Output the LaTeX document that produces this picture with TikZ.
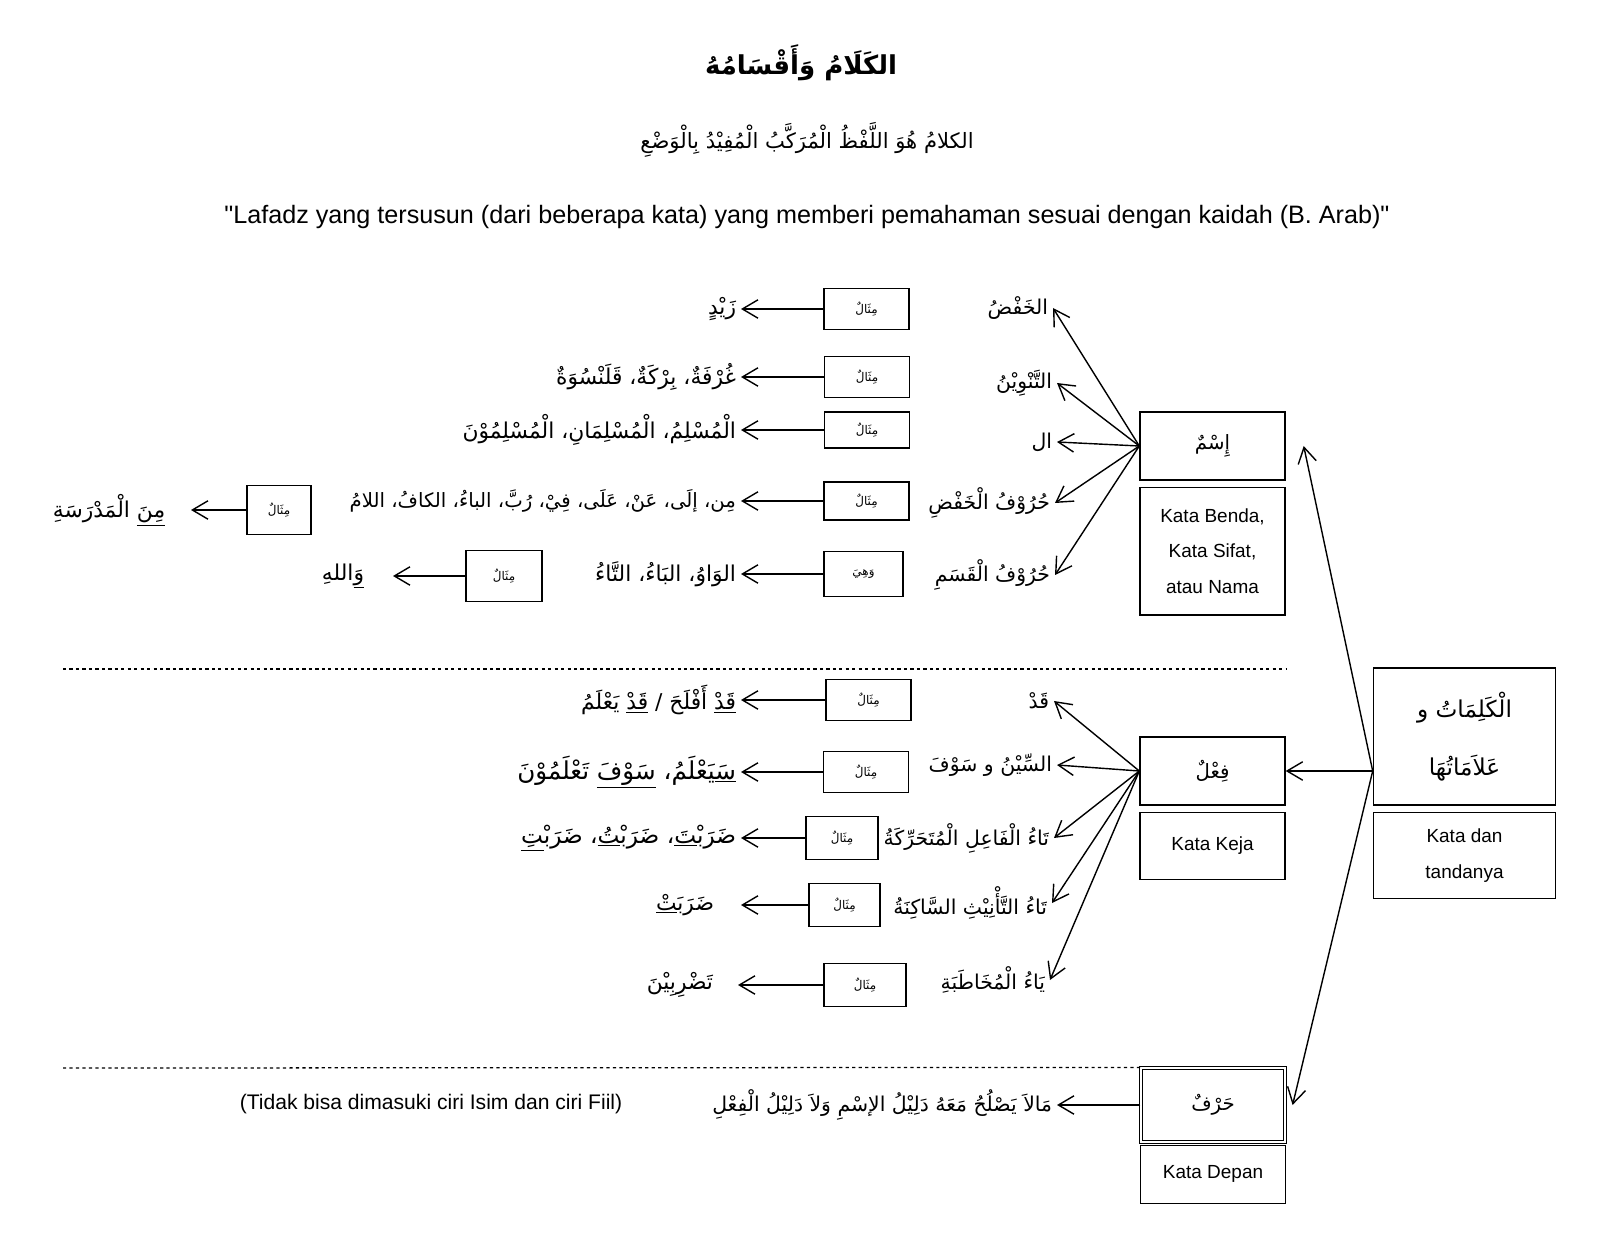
\documentclass[tikz,border=0pt]{standalone}
\usepackage{fontspec}
\setmainfont{Liberation Sans}
\newfontfamily\plainfont{Liberation Sans}
\newfontfamily\arabicfont[Script=Arabic]{DejaVu Sans}
\TeXXeTstate=1
\usepackage{tikz}
\usetikzlibrary{arrows.meta,positioning,calc}
\newcommand{\ar}[1]{{\arabicfont\beginR #1\endR}}
\newcommand{\uln}[1]{\underline{#1}}

\begin{document}
\begin{tikzpicture}[x=0.025cm,y=-0.025cm,
  blk/.style={draw,line width=1.1pt,minimum width=3.62cm,align=center,inner sep=2pt,font=\fontsize{13.5}{25.5}\selectfont},
  mbox/.style={draw,line width=1pt,minimum width=2.12cm,minimum height=1.02cm,inner sep=1pt,font=\fontsize{8.5}{10}\selectfont},
  lbl/.style={anchor=east,font=\fontsize{14.5}{17}\selectfont},
  expl/.style={anchor=east,font=\fontsize{15.5}{18}\selectfont},
  note/.style={font=\fontsize{15}{18}\selectfont},
  arr/.style={-{Straight Barb[length=3.9mm,width=4.6mm]},line width=1pt},
  dotline/.style={line width=0.9pt,dash pattern=on 2.3pt off 2.3pt}]
  \fill[white] (0,0) rectangle (1600,1246);
  \useasboundingbox (0,0) rectangle (1600,1246);
  % judul
  \node[font=\fontsize{18.5}{22}\selectfont\bfseries] (title) at (801,63) {\ar{الكَلَامُ وَأَقْسَامُهُ}};
  \node[font=\fontsize{15}{18}\selectfont] (def) at (807,140) {\ar{الكلامُ هُوَ اللَّفْظُ الْمُرَكَّبُ الْمُفِيْدُ بِالْوَضْعِ}};
  \node[font=\fontsize{17.9}{21}\selectfont\plainfont] (mean) at (807,217) {"Lafadz yang tersusun (dari beberapa kata) yang memberi pemahaman sesuai dengan kaidah (B. Arab)"};
  % kotak utama
  \node[blk,minimum width=4.55cm,minimum height=3.43cm,font=\fontsize{16.5}{41}\selectfont] (kal) at (1464.5,736.5) {\ar{الْكَلِمَاتُ و}\\\ar{عَلاَمَاتُهَا}};
  \node[blk,minimum width=4.55cm,minimum height=2.15cm,below=1.5mm of kal] (tanda) {Kata dan\\tandanya};
  \node[blk,minimum height=1.7cm,font=\fontsize{14}{16}\selectfont] (ism) at (1212.5,446) {\ar{إِسْمٌ}};
  \node[blk,minimum height=3.18cm,below=1.5mm of ism] (benda) {Kata Benda,\\Kata Sifat,\\atau Nama};
  \node[blk,minimum height=1.7cm,font=\fontsize{14}{16}\selectfont] (fil) at (1212.5,771) {\ar{فِعْلٌ}};
  \node[blk,minimum height=1.67cm,below=1.5mm of fil] (keja) {Kata Keja};
  \node[blk,line width=0.8pt,double,double distance=1.2pt,minimum width=3.6cm,minimum height=1.85cm,font=\fontsize{14}{16}\selectfont] (harf) at (1213,1105) {\ar{حَرْفٌ}};
  \node[blk,minimum height=1.45cm,below=0.5mm of harf] (depan) {Kata Depan};
  \coordinate (k0) at (kal.west |- fil.east);
  \draw[arr] (k0) -- ([xshift=4.5mm]ism.east);
  \draw[arr] (k0) -- (fil.east);
  \draw[arr] (k0) -- ([xshift=1.75mm]harf.east);
  % isim
  \node[lbl] (i1) at (1053,308) {\ar{الخَفْضُ}};
  \node[lbl] (i2) at (1057,383) {\ar{التَّنْوِيْنُ}};
  \node[lbl] (i3) at (1057,442) {\ar{ال}};
  \node[lbl] (i4) at (1055,503) {\ar{حُرُوْفُ الْخَفْضِ}};
  \node[lbl] (i5) at (1055,575) {\ar{حُرُوْفُ الْقَسَمِ}};
  \draw[arr] (ism.west) -- (i1.east);
  \draw[arr] (ism.west) -- (i2.east);
  \draw[arr] (ism.west) -- (i3.east);
  \draw[arr] (ism.west) -- (i4.east);
  \draw[arr] (ism.west) -- (i5.east);
  \node[mbox] (m1) at (866.5,309) {\ar{مِثَالٌ}};
  \node[mbox] (m2) at (867,377) {\ar{مِثَالٌ}};
  \node[mbox,minimum height=0.9cm] (m3) at (867,430) {\ar{مِثَالٌ}};
  \node[mbox,minimum height=0.95cm] (m4) at (866.5,501) {\ar{مِثَالٌ}};
  \node[mbox,minimum width=1.6cm,minimum height=1.22cm] (m4b) at (279,510) {\ar{مِثَالٌ}};
  \node[mbox,minimum width=1.98cm,minimum height=1.12cm] (m5) at (863.5,574) {\ar{وَهِيَ}};
  \node[mbox,minimum width=1.9cm,minimum height=1.28cm] (m5b) at (504,576) {\ar{مِثَالٌ}};
  \node[expl] (x1) at (741,309) {\ar{زَيْدٍ}};
  \node[expl] (x2) at (741,377) {\ar{غُرْفَةٌ، بِرْكَةٌ، قَلَنْسُوَةٌ}};
  \node[expl] (x3) at (741,430) {\ar{الْمُسْلِمُ، الْمُسْلِمَانِ، الْمُسْلِمُوْنَ}};
  \node[expl,font=\fontsize{14}{17}\selectfont] (x4) at (741,501) {\ar{مِن، إلَى، عَنْ، عَلَى، فِيْ، رُبَّ، الباءُ، الكافُ، اللامُ}};
  \coordinate (t4b) at (191,510);
  \node[expl,left=5.2mm of t4b] (x4b) {\ar{\uln{مِنَ} الْمَدْرَسَةِ}};
  \node[expl] (x5) at (741,574) {\ar{الوَاوُ، البَاءُ، التَّاءُ}};
  \coordinate (t5b) at (393,576);
  \node[expl,left=6mm of t5b] (x5b) {\ar{\uln{وَ}اللهِ}};
  \draw[arr] (m1.west) -- (x1.east);
  \draw[arr] (m2.west) -- (x2.east);
  \draw[arr] (m3.west) -- (x3.east);
  \draw[arr] (m4.west) -- (x4.east);
  \draw[arr] (m4b.west) -- (t4b);
  \draw[arr] (m5.west) -- (x5.east);
  \draw[arr] (m5b.west) -- (t5b);
  \draw[dotline] (63,669) -- (ism.east |- 0,669);
  % fiil
  \node[lbl] (f1) at (1054,701) {\ar{قَدْ}};
  \node[lbl] (f2) at (1057,765) {\ar{السِّيْنُ و سَوْفَ}};
  \node[lbl] (f3) at (1054,838) {\ar{تَاءُ الْفَاعِلِ الْمُتَحَرِّكَةُ}};
  \node[lbl] (f4) at (1052,903) {\ar{تَاءُ التَّأْنِيْثِ السَّاكِنَةُ}};
  \node[lbl] (f5) at (1050,980) {\ar{يَاءُ الْمُخَاطَبَةِ}};
  \draw[arr] (fil.west) -- (f1.east);
  \draw[arr] (fil.west) -- (f2.east);
  \draw[arr] (fil.west) -- (f3.east);
  \draw[arr] (fil.west) -- (f4.east);
  \draw[arr] (fil.west) -- (f5.east);
  \node[mbox] (n1) at (868.5,700) {\ar{مِثَالٌ}};
  \node[mbox] (n2) at (866,772) {\ar{مِثَالٌ}};
  \node[mbox,minimum width=1.8cm,minimum height=1.08cm] (n3) at (842,838) {\ar{مِثَالٌ}};
  \node[mbox,minimum width=1.78cm,minimum height=1.08cm] (n4) at (844.5,905) {\ar{مِثَالٌ}};
  \node[mbox,minimum width=2.05cm,minimum height=1.08cm] (n5) at (865,985) {\ar{مِثَالٌ}};
  \node[expl] (y1) at (741,700) {\ar{\uln{قَدْ} أَفْلَحَ / \uln{قَدْ} يَعْلَمُ}};
  \node[expl,font=\fontsize{17.5}{20}\selectfont] (y2) at (741,772) {\ar{\uln{سَ^^^^200d}^^^^200dيَعْلَمُ، \uln{سَوْفَ} تَعْلَمُوْنَ}};
  \node[expl,font=\fontsize{16.5}{19}\selectfont] (y3) at (741,838) {\ar{ضَرَبْ^^^^200d\uln{^^^^200dتَ}، ضَرَبْ^^^^200d\uln{^^^^200dتُ}، ضَرَبْ^^^^200d\uln{^^^^200dتِ}}};
  \coordinate (t4) at (741,905);
  \node[expl,left=5.5mm of t4] (y4) {\ar{ضَرَبَ^^^^200d\uln{^^^^200dتْ}}};
  \coordinate (t5) at (738,985);
  \node[expl,left=5mm of t5] (y5) {\ar{تَضْرِبِيْنَ}};
  \draw[arr] (n1.west) -- (y1.east);
  \draw[arr] (n2.west) -- (y2.east);
  \draw[arr] (n3.west) -- (y3.east);
  \draw[arr] (n4.west) -- (t4);
  \draw[arr] (n5.west) -- (t5);
  \draw[dotline] (63,1068) -- (harf.north west);
  % huruf
  \node[lbl] (h1) at (1057,1105) {\ar{مَالاَ يَصْلُحُ مَعَهُ دَلِيْلُ الإسْمِ وَلاَ دَلِيْلُ الْفِعْلِ}};
  \node[note] (h2) at (431,1104) {(Tidak bisa dimasuki ciri Isim dan ciri Fiil)};
  \draw[arr] (harf.west) -- (h1.east);
\end{tikzpicture}
\end{document}
